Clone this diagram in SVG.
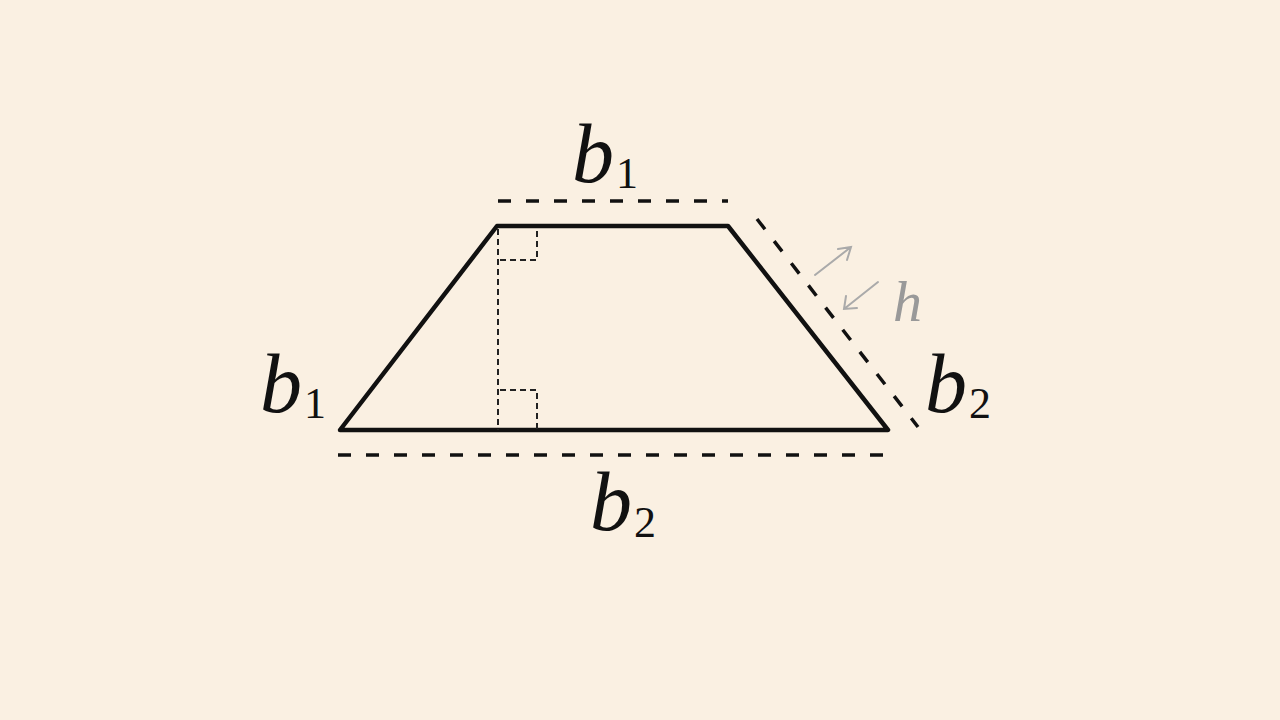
<svg xmlns="http://www.w3.org/2000/svg" width="1280" height="720" viewBox="0 0 1280 720">
<defs>
<style>
.edge{fill:none;stroke:#111;stroke-width:4.5;stroke-linejoin:round;stroke-linecap:round}
.dim{fill:none;stroke:#111;stroke-width:3.5;stroke-dasharray:13 15}
.aux{fill:none;stroke:#222;stroke-width:2;stroke-dasharray:6 4}
.arr{fill:none;stroke:#aaa;stroke-width:2;stroke-linecap:round}
.v{font-family:"Liberation Serif",serif;font-style:italic;font-size:84px;fill:#111}
.s{font-family:"Liberation Serif",serif;font-style:normal;font-size:44px;fill:#111}
.h{font-family:"Liberation Serif",serif;font-style:italic;font-size:58px;fill:#999}
</style>
</defs>
<rect width="1280" height="720" fill="#FAF0E2"/>
<g id="trapezoid">
<polygon class="edge" points="340,430 497,226 728,226 888,430"/>
</g>
<g id="height-aux">
<line class="aux" x1="498" y1="229" x2="498" y2="430"/>
<polyline class="aux" points="500,260 537,260 537,229"/>
<polyline class="aux" points="500,390 537,390 537,430"/>
</g>
<g id="connectors">
<line class="dim" x1="498" y1="201" x2="728" y2="201"/>
<line class="dim" x1="338" y1="455" x2="888" y2="455"/>
<line class="dim" x1="757" y1="219" x2="918" y2="427" stroke-dasharray="2 14 12 13 12 13 12 13 12 13 12 13 12 13 12 13 12 13 12 13"/>
<path class="arr" d="M815,275 L851,247 M838,249 L851,247 L847,260"/>
<path class="arr" d="M878,282 L844,309 M846,296 L844,309 L857,308"/>
</g>
<g id="labels">
<text class="v" x="572" y="182">b</text>
<text class="s" x="616" y="188">1</text>
<text class="v" x="260" y="412">b</text>
<text class="s" x="304" y="418">1</text>
<text class="v" x="590" y="530">b</text>
<text class="s" x="634" y="537">2</text>
<text class="v" x="925" y="412">b</text>
<text class="s" x="969" y="418">2</text>
<text class="h" x="893" y="321">h</text>
</g>
</svg>
